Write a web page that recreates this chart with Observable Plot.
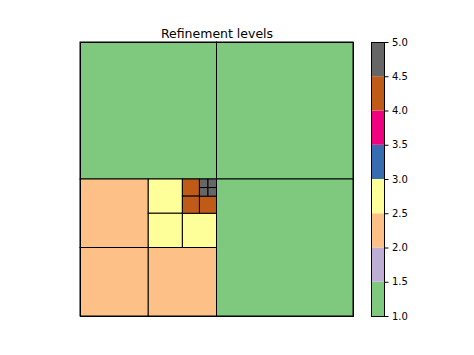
<!DOCTYPE html>
<html>
<head>
<meta charset="utf-8">
<script src="https://cdn.jsdelivr.net/npm/d3@7"></script>
<script src="https://cdn.jsdelivr.net/npm/@observablehq/plot@0.6"></script>
<style>
  body { margin: 0; background: white; }
  #wrap { position: relative; width: 474px; height: 355px; background: white; }
  #wrap svg { position: absolute; left: 0; top: 0; }
</style>
</head>
<body>
<div id="wrap"></div>
<script>
// Quadtree cells: lower-left corner, size, refinement level
const cellX     = [0, 0.5, 0.5,   0, 0, 0.25,   0.25, 0.25, 0.375,   0.375, 0.375, 0.4375,   0.4375, 0.46875, 0.4375, 0.46875];
const cellY     = [0.5, 0.5, 0,   0.25, 0, 0,   0.375, 0.25, 0.25,   0.4375, 0.375, 0.375,   0.46875, 0.46875, 0.4375, 0.4375];
const cellSize  = [0.5, 0.5, 0.5, 0.25, 0.25, 0.25, 0.125, 0.125, 0.125, 0.0625, 0.0625, 0.0625, 0.03125, 0.03125, 0.03125, 0.03125];
const cellLevel = [1, 1, 1, 2, 2, 2, 3, 3, 3, 4, 4, 4, 5, 5, 5, 5];
const levels = [1, 2, 3, 4, 5];
const levelColors = ["#7fc97f", "#fdc086", "#ffff99", "#bf5b17", "#666666"];

// Colorbar
const colorbarEdges = [1.0, 1.5, 2.0, 2.5, 3.0, 3.5, 4.0, 4.5, 5.0];
const colorbarColors = ["#7fc97f", "#beaed4", "#fdc086", "#ffff99", "#386cb0", "#f0027f", "#bf5b17", "#666666"];
const colorbarTicks = [1.0, 1.5, 2.0, 2.5, 3.0, 3.5, 4.0, 4.5, 5.0];

const title = "Refinement levels";
const font = "DejaVu Sans, sans-serif";

const idx = d3.range(cellX.length);
const main = Plot.plot({
  width: 474, height: 355,
  marginLeft: 80, marginRight: 121, marginTop: 42, marginBottom: 39,
  style: {background: "transparent", fontFamily: font, fontSize: "10px", color: "black"},
  x: {domain: [0, 1], axis: null},
  y: {domain: [0, 1], axis: null},
  color: {type: "ordinal", domain: levels, range: levelColors},
  marks: [
    Plot.rect(idx, {
      x1: i => cellX[i], x2: i => cellX[i] + cellSize[i],
      y1: i => cellY[i], y2: i => cellY[i] + cellSize[i],
      fill: i => cellLevel[i], stroke: "black", strokeWidth: 1
    }),
    Plot.frame({stroke: "black", strokeWidth: 1}),
    Plot.text([title], {frameAnchor: "top", lineAnchor: "bottom", dy: -5, fontSize: 12.5, fill: "black", fontFamily: font})
  ]
});

const bins = d3.range(colorbarColors.length);
const cbar = Plot.plot({
  width: 474, height: 355,
  marginLeft: 371, marginRight: 90, marginTop: 42, marginBottom: 39,
  style: {background: "transparent", fontFamily: font, fontSize: "10px", color: "black"},
  x: {domain: [0, 1], axis: null},
  y: {domain: [1, 5], axis: "right", ticks: colorbarTicks, tickFormat: d3.format(".1f"), tickSize: 3.5, tickPadding: 4, label: null},
  marks: [
    Plot.rect(bins, {
      x1: 0, x2: 1,
      y1: i => colorbarEdges[i], y2: i => colorbarEdges[i + 1],
      fill: i => colorbarColors[i]
    }),
    Plot.frame({stroke: "black", strokeWidth: 1})
  ]
});

const wrap = document.getElementById("wrap");
wrap.appendChild(main);
wrap.appendChild(cbar);
</script>
</body>
</html>
